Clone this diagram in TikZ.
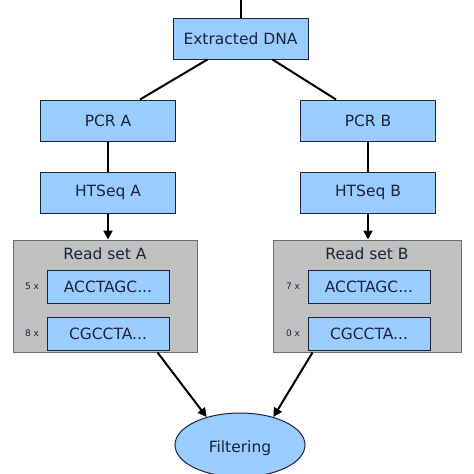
\documentclass[tikz,border=0pt]{standalone}
\usepackage{fontspec}
\setmainfont{DejaVu Sans}
\usetikzlibrary{arrows.meta,shapes.geometric}
\definecolor{boxblue}{RGB}{153,204,255}
\definecolor{boxline}{RGB}{30,36,60}
\definecolor{setgray}{RGB}{192,192,192}
\definecolor{setline}{RGB}{110,110,110}
\begin{document}
\begin{tikzpicture}[x=1pt, y=-1pt, font=\fontsize{15.5}{18}\selectfont, text=boxline,
  stepbox/.style={draw=boxline, fill=boxblue, line width=1pt, minimum width=135pt, minimum height=41pt, inner sep=0pt},
  seqbox/.style={draw=boxline, fill=boxblue, line width=1pt, minimum width=122pt, minimum height=33pt, inner sep=0pt},
  setbox/.style={draw=setline, fill=setgray, line width=1pt, minimum height=112pt, inner sep=0pt},
  link/.style={line width=2pt, black},
  arrow/.style={link, -{Triangle[length=9pt,width=9pt]}}]
  \useasboundingbox (0,0) rectangle (474,474);
  \coordinate (top) at (240.5,0);
  \node[stepbox] (dna) at (240.5,38.5) {Extracted DNA};
  \foreach \s/\x in {A/108, B/368} {
    \node[stepbox] (pcr\s) at (\x,120.5) {PCR \s};
    \node[stepbox] (hts\s) at (\x,192.5) {HTSeq \s};
  }
  \node[setbox, minimum width=184pt] (setA) at (105,296) {};
  \node[setbox, minimum width=188pt] (setB) at (367,296) {};
  \node (titleA) at (105,254) {Read set A};
  \node (titleB) at (367,254) {Read set B};
  \foreach \s/\x/\c/\n/\m in {A/108/32/5/8, B/369/293/7/0} {
    \node[seqbox] (seq\s1) at (\x,286.5) {ACCTAGC...};
    \node[seqbox] (seq\s2) at (\x,333.5) {CGCCTA...};
    \node[font=\fontsize{9}{10}\selectfont] (cnt\s1) at (\c,286.5) {\n\ x};
    \node[font=\fontsize{9}{10}\selectfont] (cnt\s2) at (\c,333.5) {\m\ x};
  }
  \node[ellipse, draw=boxline, fill=boxblue, line width=1pt, minimum width=130pt, minimum height=64pt] (filt) at (240,445) {};
  \node (filttext) at (240,448) {Filtering};
  % connectors
  \draw[link] (top) -- (dna.north);
  \draw[link] ([xshift=-33pt]dna.south) -- ([xshift=32pt]pcrA.north);
  \draw[link] ([xshift=32pt]dna.south) -- ([xshift=-32pt]pcrB.north);
  \draw[link] (pcrA) -- (htsA);
  \draw[link] (pcrB) -- (htsB);
  \draw[arrow] (htsA.south) -- (htsA.south |- setA.north);
  \draw[arrow] (htsB.south) -- (htsB.south |- setB.north);
  \draw[arrow] ([xshift=-40pt]setA.south east) -- (filt.140);
  \draw[arrow] ([xshift=40pt]setB.south west) -- (filt.40);
\end{tikzpicture}
\end{document}
